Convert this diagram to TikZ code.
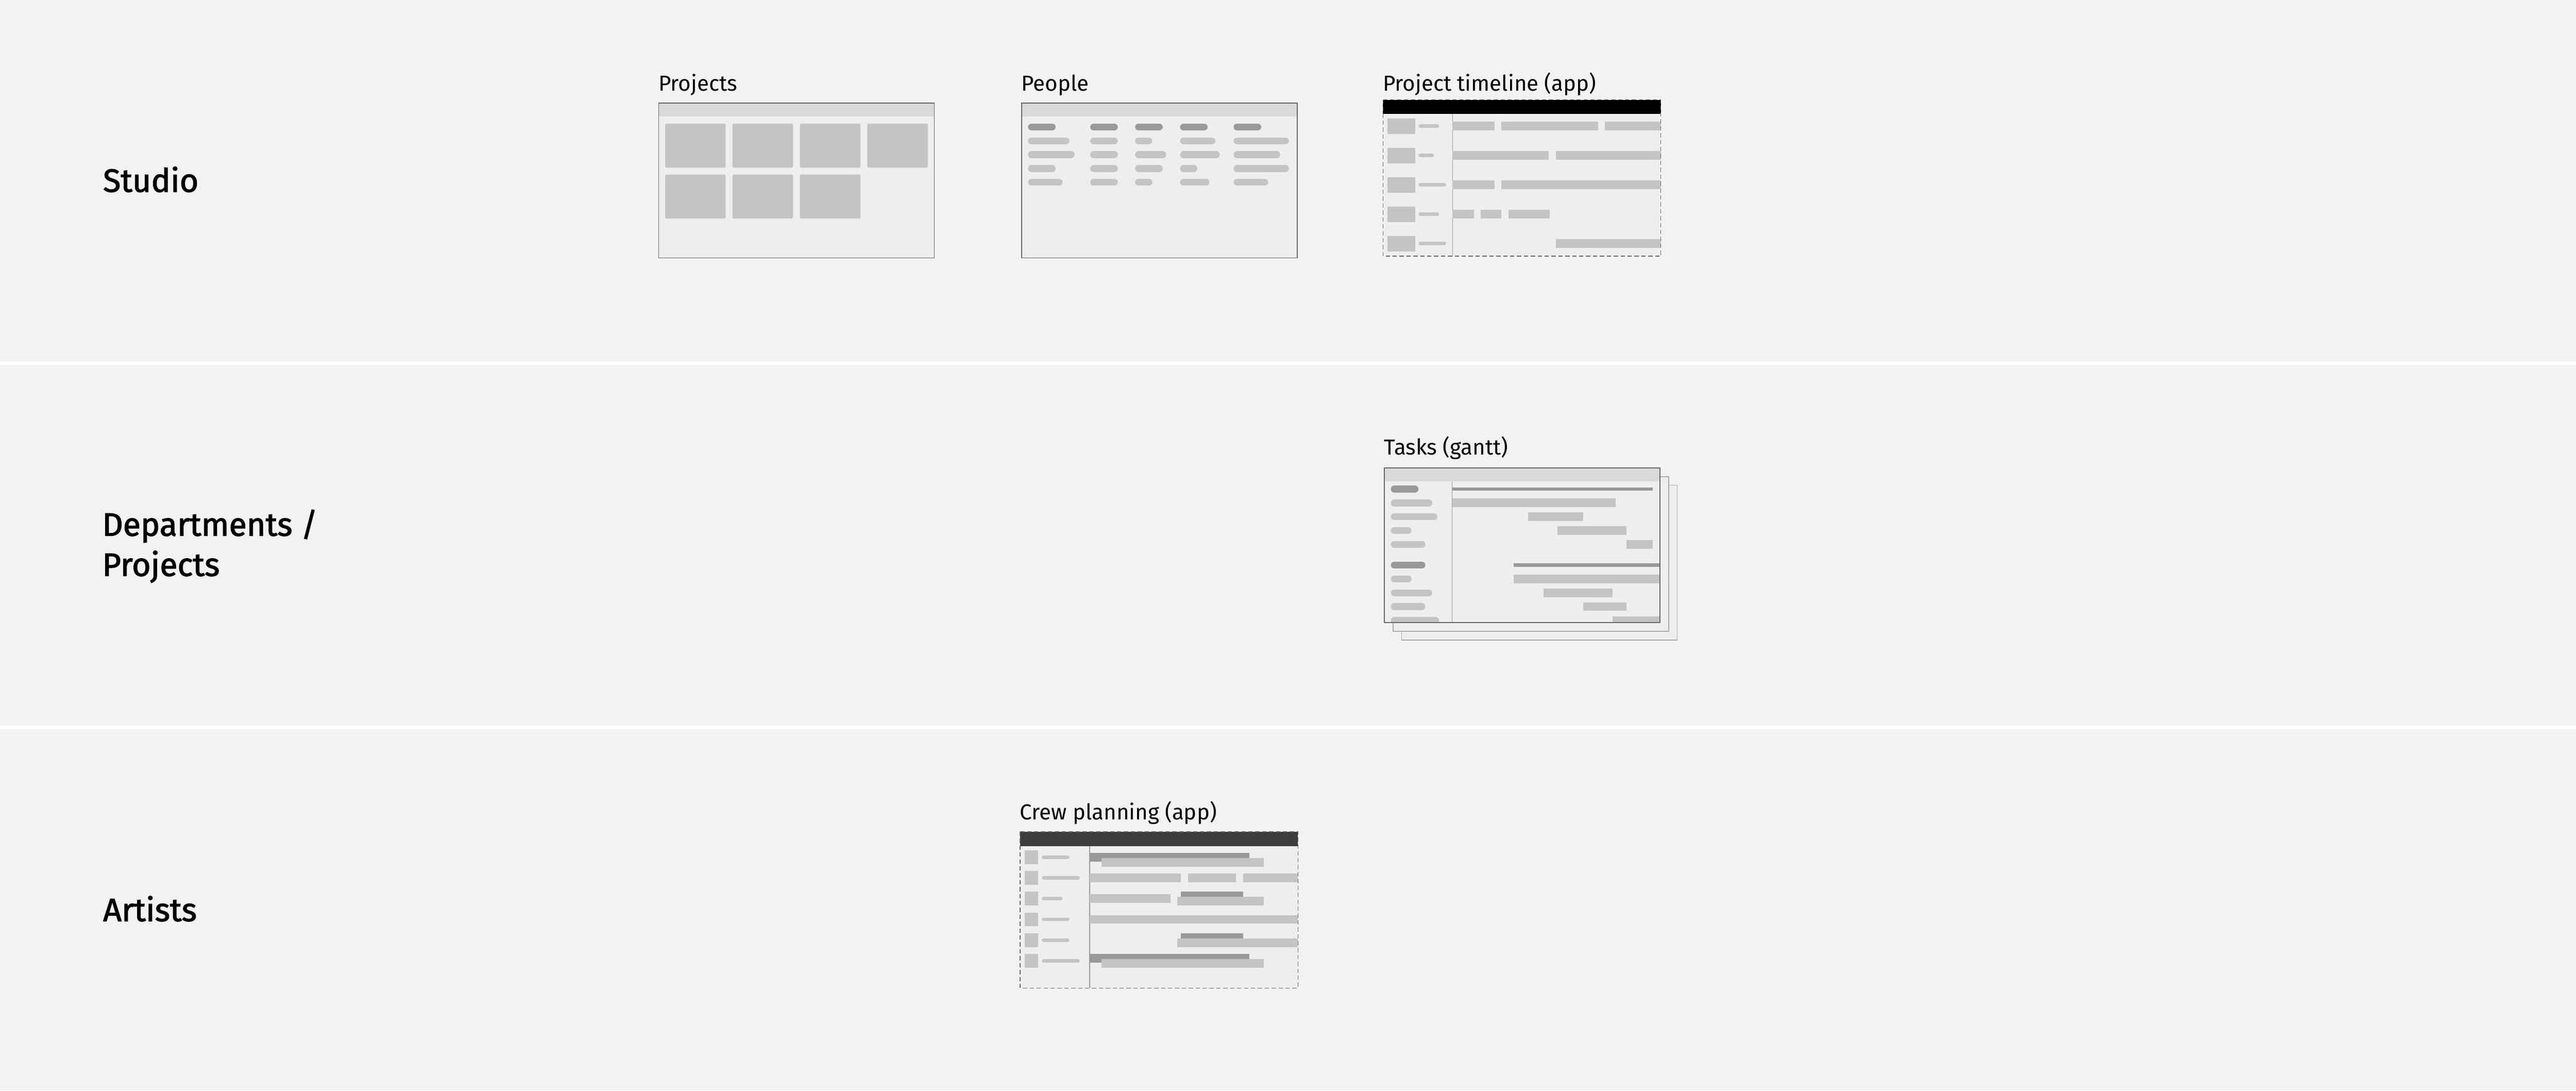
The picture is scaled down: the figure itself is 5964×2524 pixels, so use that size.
\documentclass[tikz,border=0pt]{standalone}
\usepackage{fontspec}
\setmainfont{Fira Sans}
\newfontfamily\rowfont{Fira Sans}[FakeBold=2]
\usepackage{tikz}
\definecolor{canvas}{HTML}{F2F2F2}
\definecolor{panel}{HTML}{EEEEEE}
\definecolor{headgray}{HTML}{D9D9D9}
\definecolor{barlight}{HTML}{C4C4C4}
\definecolor{bardark}{HTML}{999999}
\definecolor{edgegray}{HTML}{666666}
\definecolor{ghost}{HTML}{AAAAAA}
\definecolor{crewhead}{HTML}{3D3D3D}
\tikzstyle{frame}=[draw=edgegray, line width=0.6pt, fill=panel]
\tikzstyle{appframe}=[draw=edgegray, line width=0.55pt, dash pattern=on 1mm off 0.6mm]
\tikzstyle{ghostframe}=[draw=ghost, line width=0.6pt, fill=panel]
\tikzstyle{divider}=[draw=bardark, line width=0.5pt]
\tikzstyle{tile}=[fill=barlight, rounded corners=0.3mm]
\tikzstyle{pill}=[draw=barlight, line width=1.6mm, line cap=round]
\tikzstyle{pilldark}=[draw=bardark, line width=1.6mm, line cap=round]
\tikzstyle{minipill}=[draw=barlight, line width=0.8mm, line cap=round]
\tikzstyle{title}=[anchor=base west, inner sep=0pt, font=\fontsize{14.3pt}{17pt}\selectfont]
\tikzstyle{rowlabel}=[anchor=base west, inner sep=0pt, align=left, font=\rowfont\fontsize{21.3pt}{26.46pt}\selectfont]

\begin{document}
\begin{tikzpicture}[x=0.1mm, y=-0.1mm]
	\useasboundingbox (0,0) rectangle (5964,2524);
	\fill[canvas] (0,0) rectangle (5964,2524);
	\fill[white] (0,836) rectangle (5964,844);
	\fill[white] (0,1680) rectangle (5964,1688);

	\node[rowlabel] (studio) at (238,444) {Studio};
	\node[rowlabel] (depts) at (236,1333) {Departments /\\Projects};
	\node[rowlabel] (artists) at (238,2132) {Artists};

	% Projects
	\node[title] (projects) at (1524,210) {Projects};
	\path[frame] (1525,239) rectangle (2163,597);
	\fill[headgray] (1526,240) rectangle (2162,270);
	\foreach \x in {1540,1696,1852,2008}
		\fill[tile] (\x,286) rectangle ++(140,102);
	\foreach \x in {1540,1696,1852}
		\fill[tile] (\x,404) rectangle ++(140,102);

	% People
	\node[title] (people) at (2364,210) {People};
	\path[frame] (2365,239) rectangle (3003,597);
	\fill[headgray] (2366,240) rectangle (3002,270);
	\foreach \x in {2380,2524,2628,2732,2856}
		\draw[pilldark] (\x+8,294) -- ++(48,0);
	\foreach \cy/\wa/\wb/\wc/\wd/\we in {326/96/64/40/82/128, 358/108/64/72/92/108, 390/64/64/64/40/128, 422/80/64/40/68/80}{
		\draw[pill] (2388,\cy) -- ++(\wa-16,0);
		\draw[pill] (2532,\cy) -- ++(\wb-16,0);
		\draw[pill] (2636,\cy) -- ++(\wc-16,0);
		\draw[pill] (2740,\cy) -- ++(\wd-16,0);
		\draw[pill] (2864,\cy) -- ++(\we-16,0);
	}

	% Project timeline
	\node[title] (timeline) at (3201,210) {Project timeline (app)};
	\fill[panel] (3202,231) rectangle (3845,593);
	\fill[black] (3202,231) rectangle (3845,264);
	\draw[divider] (3363,264) -- (3363,593);
	\foreach \k/\w in {0/48,1/36,2/64,3/48,4/64}{
		\fill[barlight] (3212,274+68*\k) rectangle ++(64,36);
		\draw[minipill] (3288,292+68*\k) -- ++(\w-8,0);
	}
	\foreach \k/\xa/\xb in {0/3363/3460, 0/3476/3700, 0/3716/3845, 1/3363/3586, 1/3602/3845,
		2/3363/3460, 2/3476/3845, 3/3363/3412, 3/3428/3476, 3/3492/3588, 4/3602/3845}
		\fill[barlight] (\xa,282+68*\k) rectangle (\xb,302+68*\k);
	\path[appframe] (3202,231) rectangle (3845,593);

	% Tasks
	\node[title] (tasks) at (3204,1053) {Tasks (gantt)};
	\path[ghostframe] (3245,1123) rectangle (3883,1481);
	\path[ghostframe] (3225,1103) rectangle (3863,1461);
	\path[frame] (3205,1083) rectangle (3843,1441);
	\begin{scope}
		\clip (3206,1084) rectangle (3842,1440);
		\fill[headgray] (3205,1083) rectangle (3843,1114);
		\draw[divider] (3362,1114) -- (3362,1441);
		\foreach \cy/\w in {1164/96,1196/108,1228/48,1260/80,1340/48,1372/96,1404/80,1436/112}
			\draw[pill] (3228,\cy) -- ++(\w-16,0);
		\foreach \cy/\w in {1132/64,1308/80}
			\draw[pilldark] (3228,\cy) -- ++(\w-16,0);
		\fill[bardark] (3362,1128) rectangle (3826,1136);
		\fill[bardark] (3504,1304) rectangle (3843,1312);
		\foreach \cy/\xa/\xb in {1164/3362/3740, 1196/3538/3666, 1228/3606/3766, 1260/3766/3826,
			1340/3504/3843, 1372/3574/3734, 1404/3666/3766, 1436/3734/3843}
			\fill[barlight] (\xa,\cy-10) rectangle (\xb,\cy+10);
	\end{scope}
	\draw[draw=edgegray, line width=0.6pt] (3205,1083) rectangle (3843,1441);

	% Crew planning
	\node[title] (crew) at (2361,1897) {Crew planning (app)};
	\fill[panel] (2362,1925) rectangle (3005,2287);
	\fill[crewhead] (2362,1925) rectangle (3005,1958);
	\draw[divider] (2523,1958) -- (2523,2287);
	\foreach \k/\w in {0/64,1/88,2/48,3/64,4/64,5/88}{
		\fill[barlight] (2372,1968+48*\k) rectangle ++(32,32);
		\draw[minipill] (2416,1984+48*\k) -- ++(\w-8,0);
	}
	\fill[bardark] (2523,1974) rectangle (2892,1994);
	\fill[barlight] (2550,1986) rectangle (2926,2006);
	\fill[barlight] (2523,2022) rectangle (2734,2042);
	\fill[barlight] (2750,2022) rectangle (2862,2042);
	\fill[barlight] (2878,2022) rectangle (3005,2042);
	\fill[bardark] (2734,2064) rectangle (2878,2084);
	\fill[barlight] (2523,2070) rectangle (2710,2090);
	\fill[barlight] (2726,2076) rectangle (2926,2096);
	\fill[barlight] (2523,2118) rectangle (3005,2138);
	\fill[bardark] (2734,2160) rectangle (2878,2180);
	\fill[barlight] (2726,2172) rectangle (3005,2192);
	\fill[bardark] (2523,2208) rectangle (2892,2228);
	\fill[barlight] (2550,2220) rectangle (2926,2240);
	\path[appframe] (2362,1925) rectangle (3005,2287);
\end{tikzpicture}
\end{document}
